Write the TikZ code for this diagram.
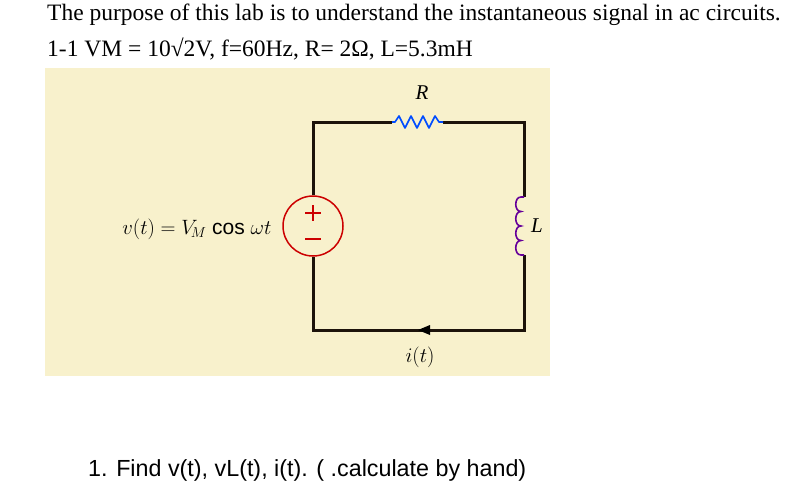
\documentclass[tikz,border=0pt]{standalone}
\usepackage{fontspec}
\setmainfont{Liberation Serif}
\newfontfamily\arialf{Liberation Sans}
\begin{document}
\begin{tikzpicture}[x=1pt,y=-1pt,
  wire/.style={line width=3pt,black!85!brown},
  lbl/.style={font=\fontsize{21}{21}\selectfont\itshape}]
\useasboundingbox (0,0) rectangle (802,485);
\definecolor{panel}{HTML}{F8F1CC}
\node[anchor=base west,inner sep=0,font=\fontsize{23.5}{24}\selectfont] (t1) at (47,20) {The purpose of this lab is to understand the instantaneous signal in ac circuits.};
\node[anchor=base west,inner sep=0,font=\fontsize{23.5}{24}\selectfont] (t2) at (47,56) {1-1 VM = 10\char"221A 2V, f=60Hz, R= 2\char"03A9, L=5.3mH};
\fill[panel] (45,68) rectangle (550,376);
\coordinate (tl) at (313,122); \coordinate (tr) at (524,122);
\coordinate (bl) at (313,330); \coordinate (br) at (524,330);
\coordinate (r1) at (392,122); \coordinate (r2) at (443,122);
\coordinate (l1) at (524,197); \coordinate (l2) at (524,255);
\node[circle,draw=red!80!black,line width=1.5pt,minimum size=60pt,inner sep=0] (src) at (313,226) {};
\draw[wire] (src.north) -- (tl) -- (r1);
\draw[wire] (r2) -- (tr) -- (l1);
\draw[wire] (l2) -- (br) -- (bl) -- (src.south);
\draw[blue!70!cyan,line width=1.6pt,line join=round] (r1) -- ++(3,0) -- ++(4,-6) -- ++(6,12) -- ++(6,-12) -- ++(6,12) -- ++(6,-12) -- ++(6,12) -- ++(6,-12) -- ++(4,6) -- (r2);
\draw[violet!80!blue,line width=1.6pt] (l1) -- (521,197)
  .. controls (514,197) and (514,211.5) .. (521,211.5)
  .. controls (514,211.5) and (514,226) .. (521,226)
  .. controls (514,226) and (514,240.5) .. (521,240.5)
  .. controls (514,240.5) and (514,255) .. (521,255) -- (l2);
\draw[red!80!black,line width=1.3pt] (305,213) -- (321,213) (313,205) -- (313,221) (305,239) -- (321,239);
\fill[black] (418,330) -- (430,325) -- (430,335) -- cycle;
\node[lbl] (lr) at (422,93) {R};
\node[lbl] (ll) at (537,226) {L};
\node[font=\fontsize{21}{21}\selectfont] (li) at (420,357) {$i(t)$};
\node[anchor=east,font=\fontsize{21}{21}\selectfont] (lv) at (275,229) {$v(t) = V_{\!M}\;$\arialf cos $\omega t$};
\node[anchor=base west,inner sep=0,font=\arialf\fontsize{23.3}{24}\selectfont] (t3) at (88,476) {1. Find v(t), vL(t), i(t). ( .calculate by hand)};
\end{tikzpicture}
\end{document}
